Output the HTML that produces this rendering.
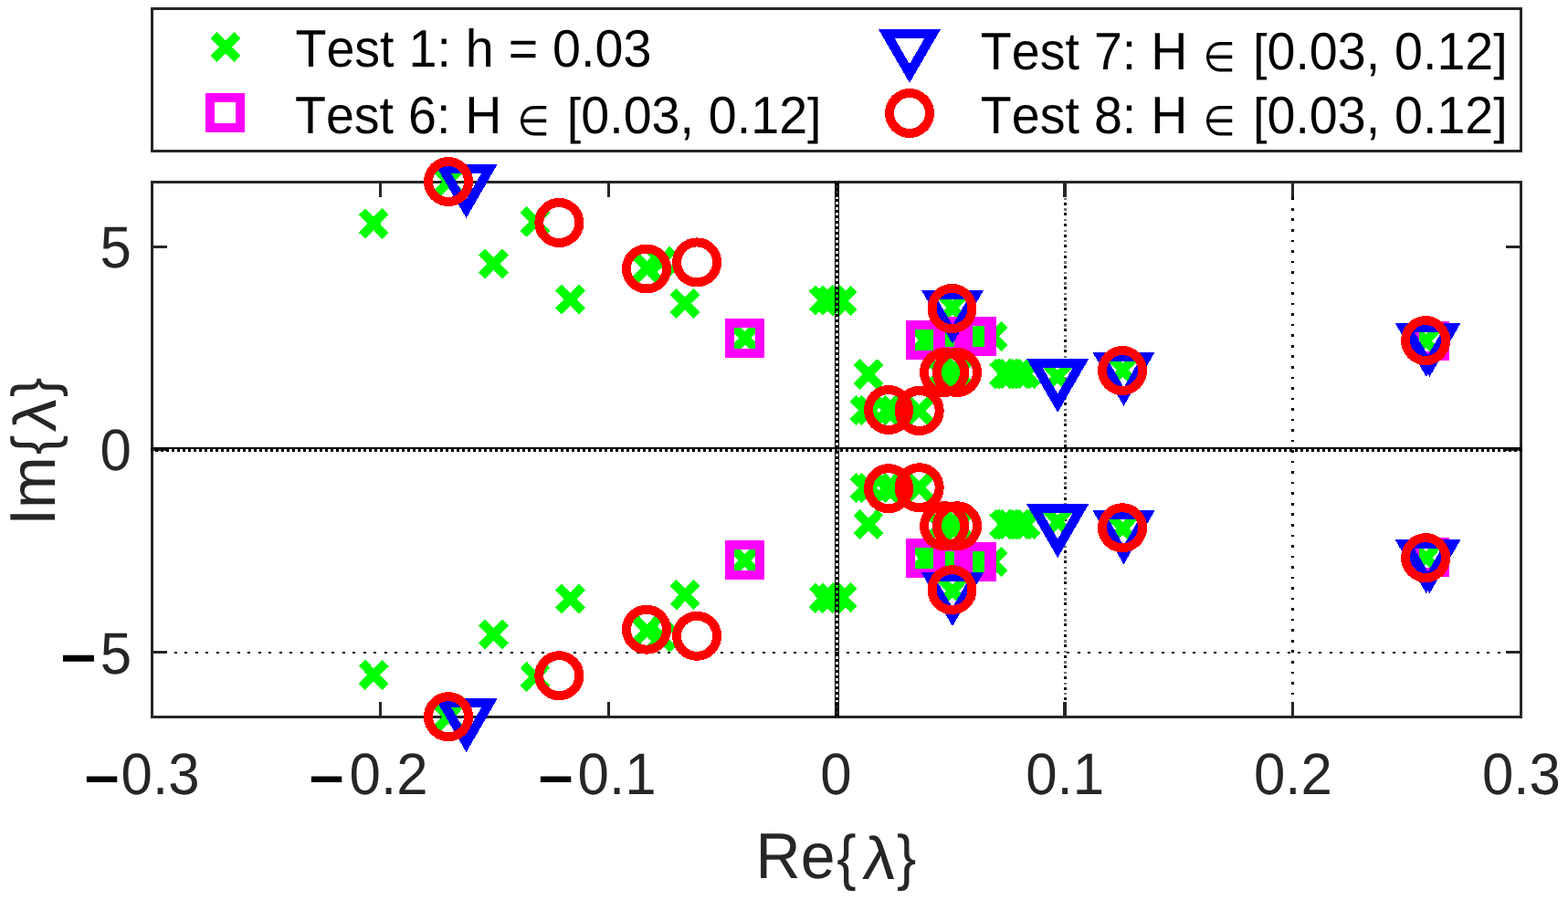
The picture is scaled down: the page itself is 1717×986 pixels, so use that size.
<!DOCTYPE html>
<html lang="en"><head><meta charset="utf-8"><title>Eigenvalue plot</title>
<style>
html,body{margin:0;padding:0;background:#fff;}
body{width:1717px;height:986px;overflow:hidden;}
svg{display:block;}
text{font-family:"Liberation Sans",Arial,Helvetica,sans-serif;font-kerning:none;font-variant-ligatures:none;text-rendering:geometricPrecision;}
.sym{font-family:"DejaVu Sans","Liberation Sans",sans-serif;}
</style></head><body>
<svg width="1717" height="986" viewBox="0 0 1717 986">
<rect x="0" y="0" width="1717" height="986" fill="#fff"/>
<g fill="none" stroke="#262626" stroke-width="3" shape-rendering="crispEdges">
<rect x="166.5" y="199.5" width="1499" height="586"/>
<rect x="166.5" y="9.5" width="1499" height="156"/>
<path d="M416.5 201v15M416.5 784v-15M666.5 201v15M666.5 784v-15M916.5 201v15M916.5 784v-15M1415.5 201v15M1415.5 784v-15M168 270.5h15M1664 270.5h-15M168 492.5h15M1664 492.5h-15M168 714.5h15M1664 714.5h-15"/>
<path d="M1166 201v15M1166 784v-15" stroke-width="4"/>
</g>
<g fill="none" stroke="#000" shape-rendering="crispEdges">
<path d="M190.9 715H1648" stroke-width="2" stroke-dasharray="3 8.5"/>
<path d="M1415.5 216.4V769" stroke-width="3" stroke-dasharray="2.6 8.936"/>
<path d="M1166.5 216.9V769" stroke-width="3" stroke-dasharray="2.4 9.136" stroke-opacity="0.55"/>
<path d="M1166.5 221.9V769" stroke-width="3" stroke-dasharray="3 8.536"/>
</g>
<g fill="none" shape-rendering="crispEdges">
<path stroke="#0f0" stroke-width="9.9" d="M396.2 231.85L422 258.15M396.2 258.15L422 231.85M396.2 726.05L422 752.35M396.2 752.35L422 726.05M478.1 185.85L503.9 212.15M478.1 212.15L503.9 185.85M478.1 772.05L503.9 798.35M478.1 798.35L503.9 772.05M573.1 229.85L598.9 256.15M573.1 256.15L598.9 229.85M573.1 728.05L598.9 754.35M573.1 754.35L598.9 728.05M527.6 275.85L553.4 302.15M527.6 302.15L553.4 275.85M527.6 682.05L553.4 708.35M527.6 708.35L553.4 682.05M611.6 314.85L637.4 341.15M611.6 341.15L637.4 314.85M611.6 643.05L637.4 669.35M611.6 669.35L637.4 643.05M695.6 280.35L721.4 306.65M695.6 306.65L721.4 280.35M695.6 677.55L721.4 703.85M695.6 703.85L721.4 677.55M711.1 273.05L736.9 299.35M711.1 299.35L736.9 273.05M711.1 684.85L736.9 711.15M711.1 711.15L736.9 684.85M737.2 319.25L763 345.55M737.2 345.55L763 319.25M737.2 638.65L763 664.95M737.2 664.95L763 638.65M802.7 357.25L828.5 383.55M802.7 383.55L828.5 357.25M802.7 600.65L828.5 626.95M802.7 626.95L828.5 600.65M889.2 315.85L915 342.15M889.2 342.15L915 315.85M889.2 642.05L915 668.35M889.2 668.35L915 642.05M897.2 315.85L923 342.15M897.2 342.15L923 315.85M897.2 642.05L923 668.35M897.2 668.35L923 642.05M909.1 316.35L934.9 342.65M909.1 342.65L934.9 316.35M909.1 641.55L934.9 667.85M909.1 667.85L934.9 641.55M938.1 396.85L963.9 423.15M938.1 423.15L963.9 396.85M938.1 561.05L963.9 587.35M938.1 587.35L963.9 561.05M934.1 436.35L959.9 462.65M934.1 462.65L959.9 436.35M934.1 521.55L959.9 547.85M934.1 547.85L959.9 521.55M940.1 436.35L965.9 462.65M940.1 462.65L965.9 436.35M940.1 521.55L965.9 547.85M940.1 547.85L965.9 521.55M958.6 436.35L984.4 462.65M958.6 462.65L984.4 436.35M958.6 521.55L984.4 547.85M958.6 547.85L984.4 521.55M966.1 436.35L991.9 462.65M966.1 462.65L991.9 436.35M966.1 521.55L991.9 547.85M966.1 547.85L991.9 521.55M993.6 436.85L1019.4 463.15M993.6 463.15L1019.4 436.85M993.6 521.05L1019.4 547.35M993.6 547.35L1019.4 521.05M1017.8 395.15L1043.6 421.45M1017.8 421.45L1043.6 395.15M1017.8 562.75L1043.6 589.05M1017.8 589.05L1043.6 562.75M1027.1 395.15L1052.9 421.45M1027.1 421.45L1052.9 395.15M1027.1 562.75L1052.9 589.05M1027.1 589.05L1052.9 562.75M1036.3 395.15L1062.1 421.45M1036.3 421.45L1062.1 395.15M1036.3 562.75L1062.1 589.05M1036.3 589.05L1062.1 562.75M999.6 359.45L1025.4 385.75M999.6 385.75L1025.4 359.45M999.6 598.45L1025.4 624.75M999.6 624.75L1025.4 598.45M1007.6 359.45L1033.4 385.75M1007.6 385.75L1033.4 359.45M1007.6 598.45L1033.4 624.75M1007.6 624.75L1033.4 598.45M1023.6 358.35L1049.4 384.65M1023.6 384.65L1049.4 358.35M1023.6 599.55L1049.4 625.85M1023.6 625.85L1049.4 599.55M1031.6 358.35L1057.4 384.65M1031.6 384.65L1057.4 358.35M1031.6 599.55L1057.4 625.85M1031.6 625.85L1057.4 599.55M1049.6 355.55L1075.4 381.85M1049.6 381.85L1075.4 355.55M1049.6 602.35L1075.4 628.65M1049.6 628.65L1075.4 602.35M1057.6 355.55L1083.4 381.85M1057.6 381.85L1083.4 355.55M1057.6 602.35L1083.4 628.65M1057.6 628.65L1083.4 602.35M1074.2 355.45L1100 381.75M1074.2 381.75L1100 355.45M1074.2 602.45L1100 628.75M1074.2 628.75L1100 602.45M1030.1 323.85L1055.9 350.15M1030.1 350.15L1055.9 323.85M1030.1 634.05L1055.9 660.35M1030.1 660.35L1055.9 634.05M1086.6 396.45L1112.4 422.75M1086.6 422.75L1112.4 396.45M1086.6 561.45L1112.4 587.75M1086.6 587.75L1112.4 561.45M1090.5 396.45L1116.3 422.75M1090.5 422.75L1116.3 396.45M1090.5 561.45L1116.3 587.75M1090.5 587.75L1116.3 561.45M1094.2 396.45L1120 422.75M1094.2 422.75L1120 396.45M1094.2 561.45L1120 587.75M1094.2 587.75L1120 561.45M1102.5 396.45L1128.3 422.75M1102.5 422.75L1128.3 396.45M1102.5 561.45L1128.3 587.75M1102.5 587.75L1128.3 561.45M1105.4 396.45L1131.2 422.75M1105.4 422.75L1131.2 396.45M1105.4 561.45L1131.2 587.75M1105.4 587.75L1131.2 561.45M1110.1 396.45L1135.9 422.75M1110.1 422.75L1135.9 396.45M1110.1 561.45L1135.9 587.75M1110.1 587.75L1135.9 561.45M1145.4 399.35L1171.2 425.65M1145.4 425.65L1171.2 399.35M1145.4 558.55L1171.2 584.85M1145.4 584.85L1171.2 558.55M1216.6 392.35L1242.4 418.65M1216.6 418.65L1242.4 392.35M1216.6 565.55L1242.4 591.85M1216.6 591.85L1242.4 565.55M1548.6 360.35L1574.4 386.65M1548.6 386.65L1574.4 360.35M1548.6 597.55L1574.4 623.85M1548.6 623.85L1574.4 597.55"/>
<g id="zero-lines" stroke="#000">
<path d="M914.5 198V787M918.5 198V787" stroke-width="1"/>
<path d="M916.5 198V787" stroke-width="3" stroke-dasharray="3 3" stroke-dashoffset="4"/>
<path d="M165 491H1667" stroke-width="2"/>
<path d="M165 493.5H1667" stroke-width="3" stroke-dasharray="3 3" stroke-dashoffset="1"/>
</g>
<path stroke="#f0f" stroke-width="10" stroke-linejoin="miter" d="M799.1 353.9h33v33h-33ZM799.1 597.3h33v33h-33ZM997 356h33v33h-33ZM997 595.2h33v33h-33ZM1027 351.9h33v33h-33ZM1027 599.3h33v33h-33ZM1050.1 351.9h33v33h-33ZM1050.1 599.3h33v33h-33ZM1053 351.9h33v33h-33ZM1053 599.3h33v33h-33ZM1549.3 356.8h33v33h-33ZM1549.3 594.4h33v33h-33Z"/>
<path stroke="#00f" stroke-width="10.3" stroke-linejoin="miter" stroke-miterlimit="10" d="M485.3 184.9L535.9 184.9L510.6 228.7ZM485.3 770.1L535.9 770.1L510.6 813.9ZM1017.7 322.9L1068.3 322.9L1043 366.7ZM1017.7 632.1L1068.3 632.1L1043 675.9ZM1132.9 397.9L1183.5 397.9L1158.2 441.7ZM1132.9 557.1L1183.5 557.1L1158.2 600.9ZM1205.2 390.8L1255.8 390.8L1230.5 434.6ZM1205.2 564.2L1255.8 564.2L1230.5 608ZM1536.5 358.9L1587.1 358.9L1561.8 402.7ZM1536.5 596.1L1587.1 596.1L1561.8 639.9ZM1540.1 358.9L1590.7 358.9L1565.4 402.7ZM1540.1 596.1L1590.7 596.1L1565.4 639.9Z"/>
<g stroke="#f00" stroke-width="10">
<circle cx="491" cy="199" r="22"/>
<circle cx="491" cy="785.2" r="22"/>
<circle cx="612.3" cy="244" r="22"/>
<circle cx="612.3" cy="740.2" r="22"/>
<circle cx="708" cy="294.5" r="22"/>
<circle cx="708" cy="689.7" r="22"/>
<circle cx="763.1" cy="287.4" r="22"/>
<circle cx="763.1" cy="696.8" r="22"/>
<circle cx="973" cy="449" r="22"/>
<circle cx="973" cy="535.2" r="22"/>
<circle cx="1006.7" cy="450" r="22"/>
<circle cx="1006.7" cy="534.2" r="22"/>
<circle cx="1034.1" cy="408" r="22"/>
<circle cx="1034.1" cy="576.2" r="22"/>
<circle cx="1048" cy="408" r="22"/>
<circle cx="1048" cy="576.2" r="22"/>
<circle cx="1042.5" cy="338" r="22"/>
<circle cx="1042.5" cy="646.2" r="22"/>
<circle cx="1229" cy="406" r="22"/>
<circle cx="1229" cy="578.2" r="22"/>
<circle cx="1561.1" cy="373.1" r="22"/>
<circle cx="1561.1" cy="611.1" r="22"/>
</g>
<path stroke="#0f0" stroke-width="9.9" d="M234.1 38.35L259.9 64.65M234.1 64.65L259.9 38.35"/>
<path stroke="#f0f" stroke-width="10" d="M230 107h33v33h-33Z"/>
<path stroke="#00f" stroke-width="10.3" stroke-miterlimit="10" d="M970.7 36.8L1021.3 36.8L996 80.6Z"/>
<circle stroke="#f00" stroke-width="10" cx="996" cy="124" r="22"/>
</g>
<text transform="translate(323.45 72.8) scale(1 1.04)" font-size="55.6" fill="#000" word-spacing="0.5">Test 1: h = 0.03</text>
<text transform="translate(322.95 145.6) scale(1 1.04)" font-size="55.6" fill="#000" word-spacing="0.5">Test 6: H</text>
<text transform="translate(566.55 147.9) scale(1 1.12)" font-size="40.4" fill="#000" class="sym">∈</text>
<text transform="translate(620.84 145.6) scale(1 0.99)" font-size="55.6" fill="#000">[</text>
<text transform="translate(636.28 145.6) scale(1 1.04)" font-size="55.6" fill="#000" word-spacing="0.5">0.03, 0.12</text>
<text transform="translate(884.11 145.6) scale(1 0.99)" font-size="55.6" fill="#000">]</text>
<text transform="translate(1073.85 75.6) scale(1 1.04)" font-size="55.6" fill="#000" word-spacing="0.5">Test 7: H</text>
<text transform="translate(1317.55 77.9) scale(1 1.12)" font-size="40.4" fill="#000" class="sym">∈</text>
<text transform="translate(1372.04 75.6) scale(1 0.99)" font-size="55.6" fill="#000">[</text>
<text transform="translate(1387.48 75.6) scale(1 1.04)" font-size="55.6" fill="#000" word-spacing="0.5">0.03, 0.12</text>
<text transform="translate(1635.31 75.6) scale(1 0.99)" font-size="55.6" fill="#000">]</text>
<text transform="translate(1073.85 145.6) scale(1 1.04)" font-size="55.6" fill="#000" word-spacing="0.5">Test 8: H</text>
<text transform="translate(1317.55 147.9) scale(1 1.12)" font-size="40.4" fill="#000" class="sym">∈</text>
<text transform="translate(1372.04 145.6) scale(1 0.99)" font-size="55.6" fill="#000">[</text>
<text transform="translate(1387.48 145.6) scale(1 1.04)" font-size="55.6" fill="#000" word-spacing="0.5">0.03, 0.12</text>
<text transform="translate(1635.31 145.6) scale(1 0.99)" font-size="55.6" fill="#000">]</text>
<text transform="translate(132.59 869.7) scale(1 1.04)" font-size="61.8" fill="#262626">0.3</text>
<text transform="translate(91.51 884.27) scale(1.011 1.3409)" font-size="68" fill="#000">−</text>
<text transform="translate(382.59 869.7) scale(1 1.04)" font-size="61.8" fill="#262626">0.2</text>
<text transform="translate(337.61 884.27) scale(1.011 1.3409)" font-size="68" fill="#000">−</text>
<text transform="translate(632.59 869.7) scale(1 1.04)" font-size="61.8" fill="#262626">0.1</text>
<text transform="translate(588.51 884.27) scale(1.011 1.3409)" font-size="68" fill="#000">−</text>
<text transform="translate(898.19 869.7) scale(1 1.04)" font-size="61.8" fill="#262626">0</text>
<text transform="translate(1123.19 869.7) scale(1 1.04)" font-size="61.8" fill="#262626">0.1</text>
<text transform="translate(1372.89 869.7) scale(1 1.04)" font-size="61.8" fill="#262626">0.2</text>
<text transform="translate(1622.89 869.7) scale(1 1.04)" font-size="61.8" fill="#262626">0.3</text>
<text transform="translate(109.53 293.2) scale(1 1.04)" font-size="61.8" fill="#262626">5</text>
<text transform="translate(109.59 515.2) scale(1 1.04)" font-size="61.8" fill="#262626">0</text>
<text transform="translate(109.63 737.9) scale(1 1.04)" font-size="61.8" fill="#262626">5</text>
<text transform="translate(65.55 754.15) scale(1.0291 1.444)" font-size="68" fill="#000">−</text>
<text transform="translate(827.62 961.5) scale(1 1.04)" font-size="68" fill="#262626">Re</text>
<text transform="translate(916.24 961.5) scale(0.94 0.99)" font-size="68" fill="#262626">{</text>
<text transform="translate(943.71 962.6) skewX(-4) scale(1.09 1)" font-size="65.8" fill="#262626">λ</text>
<text transform="translate(981.94 961.5) scale(0.94 0.99)" font-size="68" fill="#262626">}</text>
<text transform="translate(60 575.78) rotate(-90) scale(1 1.04)" font-size="68" fill="#262626">Im</text>
<text transform="translate(60 497.96) rotate(-90) scale(0.94 0.99)" font-size="68" fill="#262626">{</text>
<text transform="translate(61.2 473.49) rotate(-90) skewX(-4) scale(1.09 1)" font-size="65.8" fill="#262626">λ</text>
<text transform="translate(60 434.96) rotate(-90) scale(0.94 0.99)" font-size="68" fill="#262626">}</text>
</svg>
</body></html>
